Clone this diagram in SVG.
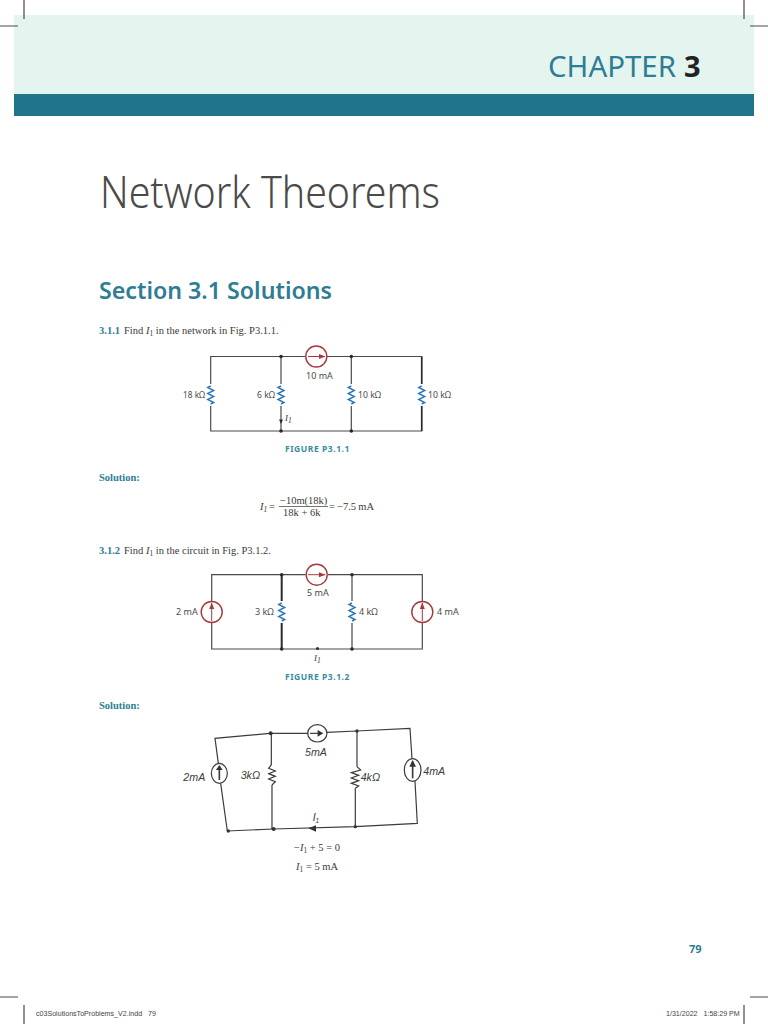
<svg xmlns="http://www.w3.org/2000/svg" width="768" height="1024" viewBox="0 0 768 1024">
<style>
text{font-family:"Liberation Serif",serif;font-size:10.5px;fill:#3a3a3a}
.t{fill:#2f7d94;font-weight:700}
.i{font-style:italic}
.s{font-size:7.5px}
.lab{font-family:"Noto Sans","Open Sans",sans-serif;font-size:9px;fill:#4a4a4a}
.fig{font-family:"Noto Sans",sans-serif;font-size:8.5px;font-weight:700;fill:#3a8ea3;letter-spacing:.55px}
.w{fill:none;stroke:#4a4a4a;stroke-width:1.2}
.wb{fill:none;stroke:#2a2a2a;stroke-width:2}
.r{fill:none;stroke:#2a78b8;stroke-width:1.4}
.src{fill:#fff;stroke:#a8383c;stroke-width:1.4}
.ar{stroke:#a8383c;stroke-width:1;fill:none;marker-end:url(#ra)}
.d{fill:#2a2a2a}
.h{fill:none;stroke:#3c3c3c;stroke-width:3.6}
.hand{font-family:"Liberation Sans",sans-serif;font-size:32px;font-style:italic;fill:#3c3c3c}
.crop{stroke:#4a4a4a;stroke-width:1.2}
</style>
<defs>
<marker id="ra" markerUnits="userSpaceOnUse" markerWidth="7" markerHeight="7" refX="6" refY="3.5" orient="auto"><path d="M0 1L6.5 3.5L0 6z" fill="#a8383c"/></marker>
<path id="res" class="r" d="M0-9L-3-7.5L3-4.5L-3-1.5L3 1.5L-3 4.5L3 7.5L0 9"/>
</defs>
<rect width="768" height="1024" fill="#fff"/>
<g id="header">
<rect x="14" y="15" width="740" height="79" fill="#e4f5f0"/>
<rect x="14" y="94" width="740" height="22" fill="#20748b"/>
<text x="548" y="77" style="font-family:'Noto Sans',sans-serif;font-size:29px;fill:#2f7d94;font-weight:400" textLength="128" lengthAdjust="spacingAndGlyphs">CHAPTER</text>
<text x="684" y="77" style="font-family:'Noto Sans',sans-serif;font-size:29px;fill:#222;font-weight:700">3</text>
</g>
<g id="crop-marks">
<path class="crop" d="M24 0V19M0 26H18M744 0V19M750 26H768M24 1005V1024M0 997H18M744 1005V1024M750 997H768"/>
</g>
<text id="title" x="100" y="208" style="font-family:'Noto Sans',sans-serif;font-size:44px;font-weight:300;fill:#4a4a4a" textLength="340" lengthAdjust="spacingAndGlyphs">Network Theorems</text>
<text id="section" x="99" y="299" style="font-family:'Noto Sans',sans-serif;font-size:24px;font-weight:600;fill:#2f7d94" textLength="233" lengthAdjust="spacingAndGlyphs">Section 3.1 Solutions</text>
<g id="q1">
<text x="99" y="334" class="t">3.1.1</text>
<text x="124" y="334">Find <tspan class="i">I</tspan><tspan class="s" dy="2">1</tspan><tspan dy="-2"> in the network in Fig. P3.1.1.</tspan></text>
</g>
<g id="connectors">
<path class="w" d="M305 356.5H210.7V431H421.7V356.5H327M281 356.5V431M351.3 356.5V431"/>
<path class="wb" d="M421.7 356.5V431" style="stroke-width:1.6"/>
<path class="w" d="M305.7 574.7H211.7V649H422.3V574.7H328M352 574.7V649"/>
<path class="wb" d="M281.7 574.7V649"/>
<path d="M279 419.5L283 419.5L281 424z" class="d"/>
</g>
<g id="fig1-r1"><rect x="206" y="384" width="10" height="22" fill="#fff"/><use href="#res" x="210.7" y="395"/><text x="183" y="398" class="lab" textLength="22" lengthAdjust="spacingAndGlyphs">18 kΩ</text></g>
<g id="fig1-r2"><rect x="276" y="384" width="10" height="22" fill="#fff"/><use href="#res" x="281" y="395"/><text x="257" y="398" class="lab" textLength="18" lengthAdjust="spacingAndGlyphs">6 kΩ</text></g>
<g id="fig1-r3"><rect x="346" y="384" width="10" height="22" fill="#fff"/><use href="#res" x="351.3" y="395"/><text x="358" y="398" class="lab" textLength="23" lengthAdjust="spacingAndGlyphs">10 kΩ</text></g>
<g id="fig1-r4"><rect x="416" y="384" width="11" height="22" fill="#fff"/><use href="#res" x="421.7" y="395"/><text x="428" y="398" class="lab" textLength="23" lengthAdjust="spacingAndGlyphs">10 kΩ</text></g>
<g id="fig1-src"><circle class="src" cx="316.3" cy="356.5" r="10.5"/><path class="ar" d="M308 356.5H325"/><text x="306" y="379" class="lab">10 mA</text></g>
<g id="fig1-nodes"><circle class="d" cx="281" cy="356.5" r="1.8"/><circle class="d" cx="351.3" cy="356.5" r="1.8"/><circle class="d" cx="281" cy="431" r="1.8"/><circle class="d" cx="351.3" cy="431" r="1.8"/><text x="285" y="421" class="i" style="font-size:9px">I<tspan class="s" dy="2">1</tspan></text></g>
<text id="fig1-cap" x="285" y="452" class="fig">FIGURE P3.1.1</text>
<text id="sol1" x="99" y="481" class="t">Solution:</text>
<g id="eq1">
<text x="260" y="510" class="i">I<tspan class="s" dy="2">1</tspan></text>
<text x="269" y="510">=</text>
<text x="280" y="504">−10m(18k)</text>
<path d="M279 506.5H328" stroke="#3a3a3a" stroke-width=".7"/>
<text x="283" y="516">18k + 6k</text>
<text x="329" y="510" textLength="45">= −7.5 mA</text>
</g>
<g id="q2">
<text x="99" y="554" class="t">3.1.2</text>
<text x="124" y="554">Find <tspan class="i">I</tspan><tspan class="s" dy="2">1</tspan><tspan dy="-2"> in the circuit in Fig. P3.1.2.</tspan></text>
</g>
<g id="fig2-src-left"><circle class="src" cx="211.7" cy="612" r="10.5"/><path class="ar" d="M211.7 621V603"/><text x="176" y="615" class="lab">2 mA</text></g>
<g id="fig2-r3"><rect x="277" y="601" width="10" height="22" fill="#fff"/><use href="#res" x="281.7" y="612"/><text x="255" y="615" class="lab">3 kΩ</text></g>
<g id="fig2-src"><circle class="src" cx="316.7" cy="574.7" r="10.5"/><path class="ar" d="M308 574.7H325"/><text x="307" y="596" class="lab">5 mA</text></g>
<g id="fig2-r4"><rect x="347" y="601" width="10" height="22" fill="#fff"/><use href="#res" x="352" y="612"/><text x="359" y="615" class="lab">4 kΩ</text></g>
<g id="fig2-src-right"><circle class="src" cx="422.3" cy="612" r="10.5"/><path class="ar" d="M422.3 621V603"/><text x="437" y="615" class="lab">4 mA</text></g>
<g id="fig2-nodes"><circle class="d" cx="281.7" cy="574.7" r="1.8"/><circle class="d" cx="352" cy="574.7" r="1.8"/><circle class="d" cx="281.7" cy="649" r="1.8"/><circle class="d" cx="352" cy="649" r="1.8"/><circle class="d" cx="317.5" cy="648.5" r="1.5"/><text x="314" y="661" class="i" style="font-size:9px">I<tspan class="s" dy="2">1</tspan></text></g>
<text id="fig2-cap" x="285" y="680" class="fig">FIGURE P3.1.2</text>
<text id="sol2" x="99" y="709" class="t">Solution:</text>
<g id="hand-circuit" transform="translate(170 715) scale(.3333)">
<path class="h" d="M300 55H415M470 52L560 48L720 40L726 130M735 198L742 325L556 335L310 342L172 348L152 205M145 145L135 70L300 55M304 55V150M306 210V342M561 48V155M556 220V335"/>
<path class="h" d="M304 150L296 160L316 168L296 176L316 184L296 192L316 200L306 210M561 155L572 165L544 173L566 181L544 189L566 197L544 205L566 213L556 220"/>
<ellipse class="h" cx="148" cy="175" rx="24" ry="30"/><path d="M148 195V158" class="h" style="stroke-width:5"/><path d="M138 165L148 150L158 165z" fill="#333"/>
<ellipse class="h" cx="442" cy="55" rx="29" ry="26"/><path d="M420 55H445" class="h"/><path d="M443 45L460 55L443 65z" fill="#333"/>
<ellipse class="h" cx="728" cy="165" rx="25" ry="34"/><path d="M728 190V140" class="h" style="stroke-width:5"/><path d="M718 155L728 135L738 155z" fill="#333"/>
<path d="M438 331L415 340L438 350z" fill="#333"/>
<circle cx="302" cy="55" r="6" fill="#333"/><circle cx="561" cy="48" r="5" fill="#333"/><circle cx="311" cy="342" r="6" fill="#333"/><circle cx="556" cy="335" r="5" fill="#333"/><circle cx="175" cy="348" r="5" fill="#333"/>
<text x="40" y="198" class="hand">2mA</text>
<text x="212" y="192" class="hand">3kΩ</text>
<text x="405" y="122" class="hand">5mA</text>
<text x="572" y="197" class="hand">4kΩ</text>
<text x="760" y="180" class="hand">4mA</text>
<text x="428" y="318" class="hand">I<tspan font-size="20" dy="6">1</tspan></text>
</g>
<g id="eq2">
<text x="294" y="851"><tspan>−</tspan><tspan class="i">I</tspan><tspan class="s" dy="2">1</tspan><tspan dy="-2"> + 5 = 0</tspan></text>
<text x="296" y="870"><tspan class="i">I</tspan><tspan class="s" dy="2">1</tspan><tspan dy="-2"> = 5 mA</tspan></text>
</g>
<text id="page" x="689" y="953" style="font-family:'Noto Sans',sans-serif;font-size:11px;font-weight:700;fill:#2f7d94">79</text>
<g id="slug">
<text x="36" y="1016" xml:space="preserve" style="font-family:'Liberation Sans',sans-serif;font-size:7.1px;fill:#444">c03SolutionsToProblems_V2.indd   79</text>
<text x="666" y="1016" xml:space="preserve" style="font-family:'Liberation Sans',sans-serif;font-size:7.1px;fill:#444">1/31/2022   1:58:29 PM</text>
</g>
</svg>
